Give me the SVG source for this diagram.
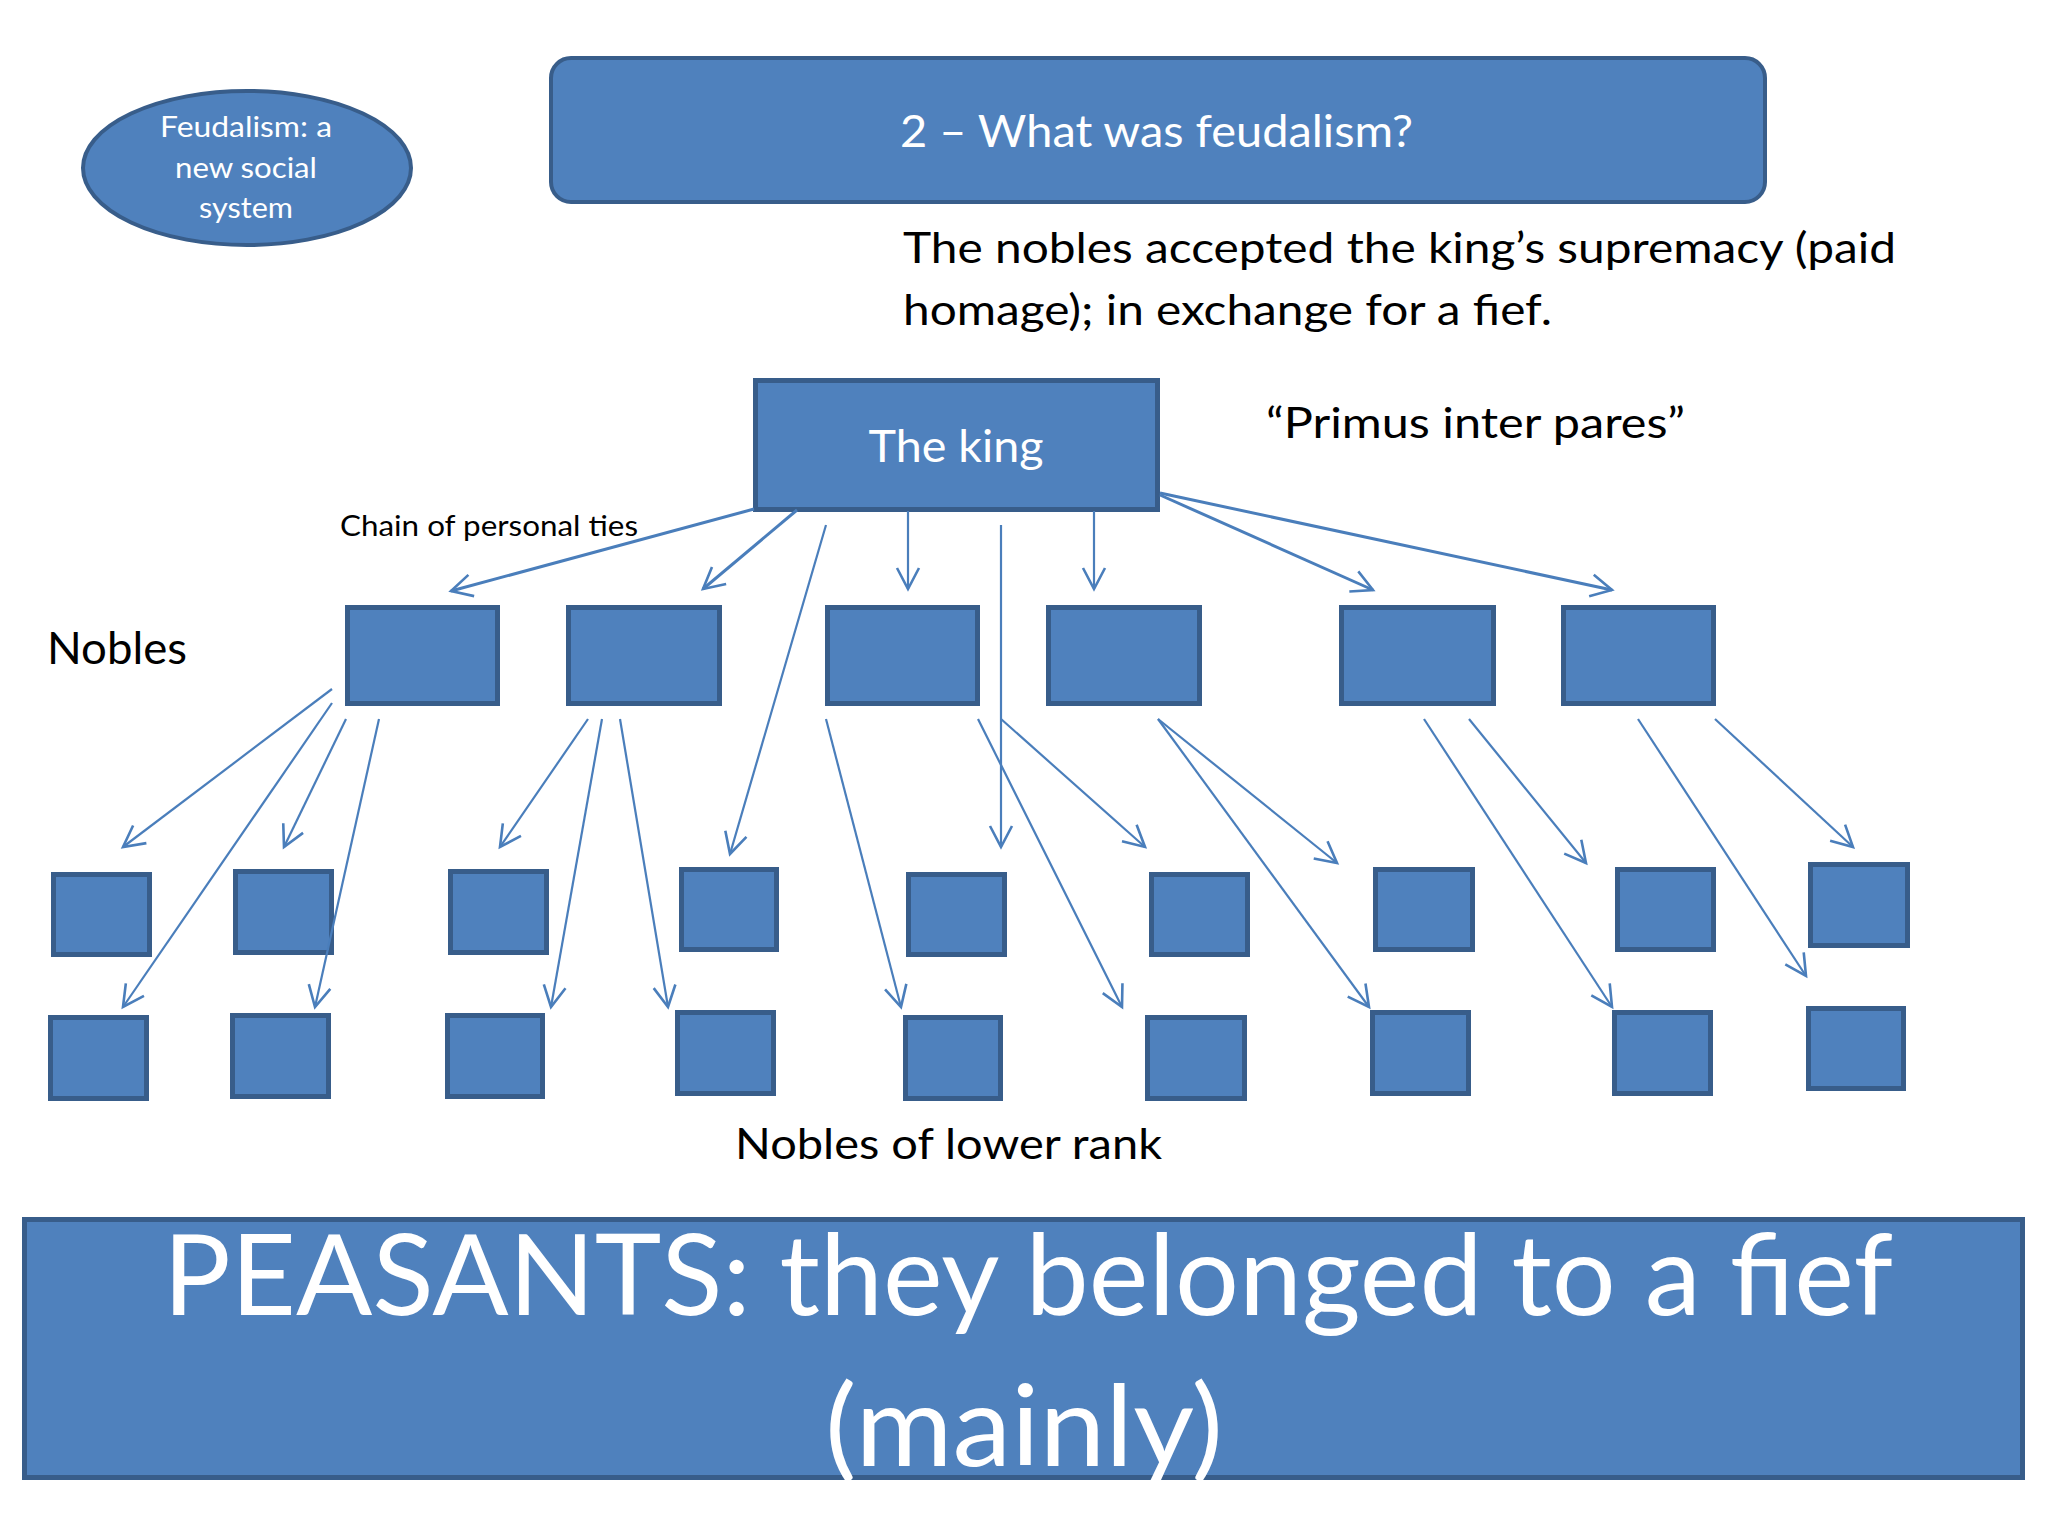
<svg xmlns="http://www.w3.org/2000/svg" width="2048" height="1536" viewBox="0 0 2048 1536">
<defs>
<style>
.box{fill:#4f81bd;stroke:#385d8a;stroke-width:5}
.wt{fill:#ffffff;font-family:Lato,"Open Sans",sans-serif}
.bt{fill:#000000;font-family:Lato,"Open Sans",sans-serif}
.c{fill:none;stroke:#4a7ebb;stroke-width:2.2;marker-end:url(#arr)}
.ct{stroke-width:3}
</style>
<marker id="arr" markerUnits="userSpaceOnUse" markerWidth="30" markerHeight="30" viewBox="0 0 30 30" refX="25" refY="15" orient="auto">
<path d="M4,4 L25,15 L4,26" fill="none" stroke="#4a7ebb" stroke-width="2.6"/>
</marker>
</defs>
<rect width="2048" height="1536" fill="#ffffff"/>

<g id="oval-feudalism">
<ellipse cx="247" cy="168" rx="164" ry="77" fill="#4f81bd" stroke="#385d8a" stroke-width="4"/>
<text class="wt" font-size="28" text-anchor="middle" x="246" y="137" textLength="172" lengthAdjust="spacingAndGlyphs">Feudalism: a</text>
<text class="wt" font-size="28" text-anchor="middle" x="246" y="178" textLength="142" lengthAdjust="spacingAndGlyphs">new social</text>
<text class="wt" font-size="28" text-anchor="middle" x="246" y="218" textLength="94" lengthAdjust="spacingAndGlyphs">system</text>
</g>

<g id="title">
<rect x="551" y="58" width="1214" height="144" rx="20" fill="#4f81bd" stroke="#385d8a" stroke-width="4"/>
<text class="wt" font-size="45" text-anchor="middle" x="1156.5" y="147" textLength="513" lengthAdjust="spacingAndGlyphs">2 – What was feudalism?</text>
</g>

<g id="homage-text">
<text class="bt" font-size="42" x="903" y="263" textLength="993" lengthAdjust="spacingAndGlyphs">The nobles accepted the king’s supremacy (paid</text>
<text class="bt" font-size="42" x="903" y="325" textLength="649" lengthAdjust="spacingAndGlyphs">homage); in exchange for a fief.</text>
</g>

<g id="king">
<rect class="box" x="755.5" y="380.5" width="402" height="129"/>
<text class="wt" font-size="45" text-anchor="middle" x="956" y="462" textLength="175" lengthAdjust="spacingAndGlyphs">The king</text>
</g>

<g id="primus-label">
<text class="bt" font-size="43" x="1266" y="438" textLength="419" lengthAdjust="spacingAndGlyphs">“Primus inter pares”</text>
</g>

<g id="chain-label">
<text class="bt" font-size="29" x="340" y="536" textLength="298" lengthAdjust="spacingAndGlyphs">Chain of personal ties</text>
</g>

<g id="nobles-label">
<text class="bt" font-size="45" x="47" y="664" textLength="140" lengthAdjust="spacingAndGlyphs">Nobles</text>
</g>

<g id="noble-1"><rect class="box" x="347.5" y="607.5" width="150" height="96"/></g>
<g id="noble-2"><rect class="box" x="568.5" y="607.5" width="151" height="96"/></g>
<g id="noble-3"><rect class="box" x="827.5" y="607.5" width="150" height="96"/></g>
<g id="noble-4"><rect class="box" x="1048.5" y="607.5" width="151" height="96"/></g>
<g id="noble-5"><rect class="box" x="1341.5" y="607.5" width="152" height="96"/></g>
<g id="noble-6"><rect class="box" x="1563.5" y="607.5" width="150" height="96"/></g>

<g id="lower-a1"><rect class="box" x="53.5" y="874.5" width="96" height="80"/></g>
<g id="lower-a2"><rect class="box" x="235.5" y="871.5" width="96" height="81"/></g>
<g id="lower-a3"><rect class="box" x="450.5" y="871.5" width="96" height="81"/></g>
<g id="lower-a4"><rect class="box" x="681.5" y="869.5" width="95" height="80"/></g>
<g id="lower-a5"><rect class="box" x="908.5" y="874.5" width="96" height="80"/></g>
<g id="lower-a6"><rect class="box" x="1151.5" y="874.5" width="96" height="80"/></g>
<g id="lower-a7"><rect class="box" x="1375.5" y="869.5" width="97" height="80"/></g>
<g id="lower-a8"><rect class="box" x="1617.5" y="869.5" width="96" height="80"/></g>
<g id="lower-a9"><rect class="box" x="1810.5" y="864.5" width="97" height="81"/></g>

<g id="lower-b1"><rect class="box" x="50.5" y="1017.5" width="96" height="81"/></g>
<g id="lower-b2"><rect class="box" x="232.5" y="1015.5" width="96" height="81"/></g>
<g id="lower-b3"><rect class="box" x="447.5" y="1015.5" width="95" height="81"/></g>
<g id="lower-b4"><rect class="box" x="677.5" y="1012.5" width="96" height="81"/></g>
<g id="lower-b5"><rect class="box" x="905.5" y="1017.5" width="95" height="81"/></g>
<g id="lower-b6"><rect class="box" x="1147.5" y="1017.5" width="97" height="81"/></g>
<g id="lower-b7"><rect class="box" x="1372.5" y="1012.5" width="96" height="81"/></g>
<g id="lower-b8"><rect class="box" x="1614.5" y="1012.5" width="96" height="81"/></g>
<g id="lower-b9"><rect class="box" x="1808.5" y="1008.5" width="95" height="80"/></g>

<g id="lower-rank-label">
<text class="bt" font-size="43" x="735" y="1159" textLength="427" lengthAdjust="spacingAndGlyphs">Nobles of lower rank</text>
</g>

<g id="peasants">
<rect class="box" x="24.5" y="1219.5" width="1998" height="258"/>
<text class="wt" font-size="112" text-anchor="middle" x="1028" y="1315" textLength="1730" lengthAdjust="spacingAndGlyphs">PEASANTS: they belonged to a fief</text>
<text class="wt" font-size="112" text-anchor="middle" x="1024" y="1466" textLength="398" lengthAdjust="spacingAndGlyphs">(mainly)</text>
</g>

<g id="connectors">
<line class="c ct" x1="754" y1="509" x2="451" y2="591"/>
<line class="c ct" x1="797" y1="510" x2="703" y2="589"/>
<line class="c" x1="826" y1="525" x2="730" y2="854"/>
<line class="c" x1="908" y1="511" x2="908" y2="589"/>
<line class="c" x1="1001" y1="525" x2="1001" y2="847"/>
<line class="c" x1="1094" y1="511" x2="1094" y2="589"/>
<line class="c ct" x1="1160" y1="495" x2="1373" y2="590"/>
<line class="c ct" x1="1160" y1="493" x2="1612" y2="590"/>

<line class="c" x1="332" y1="689" x2="123" y2="847"/>
<line class="c" x1="332" y1="703" x2="123" y2="1007"/>
<line class="c" x1="346" y1="719" x2="284" y2="847"/>
<line class="c" x1="379" y1="719" x2="315" y2="1007"/>
<line class="c" x1="588" y1="719" x2="500" y2="847"/>
<line class="c" x1="602" y1="719" x2="551" y2="1007"/>
<line class="c" x1="620" y1="719" x2="668" y2="1007"/>
<line class="c" x1="826" y1="719" x2="901" y2="1007"/>
<line class="c" x1="978" y1="719" x2="1122" y2="1007"/>
<line class="c" x1="1001" y1="719" x2="1145" y2="847"/>
<line class="c" x1="1158" y1="719" x2="1337" y2="863"/>
<line class="c" x1="1158" y1="719" x2="1369" y2="1007"/>
<line class="c" x1="1424" y1="719" x2="1612" y2="1007"/>
<line class="c" x1="1469" y1="719" x2="1586" y2="863"/>
<line class="c" x1="1638" y1="719" x2="1806" y2="976"/>
<line class="c" x1="1715" y1="719" x2="1853" y2="847"/>
</g>
</svg>
